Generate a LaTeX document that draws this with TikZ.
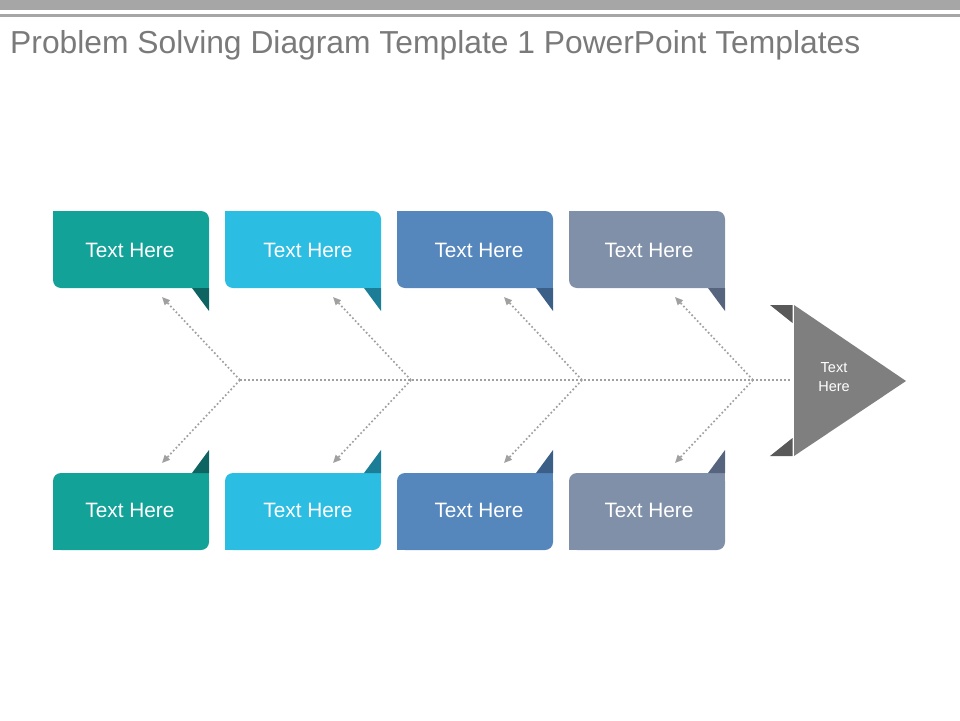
\documentclass[tikz,border=0pt]{standalone}
\usepackage{fontspec}
\setmainfont{Liberation Sans}
\usetikzlibrary{arrows.meta}
\definecolor{bargray}{HTML}{A6A6A6}
\definecolor{titlegray}{HTML}{7A7A7A}
\definecolor{dotgray}{HTML}{A0A0A0}
\definecolor{cA}{HTML}{13A298}
\definecolor{fA}{HTML}{0D6460}
\definecolor{cB}{HTML}{2CBDE2}
\definecolor{fB}{HTML}{1B7D96}
\definecolor{cC}{HTML}{5587BD}
\definecolor{fC}{HTML}{3C5F88}
\definecolor{cD}{HTML}{8090A9}
\definecolor{fD}{HTML}{56657D}
\definecolor{headgray}{HTML}{7F7F7F}
\definecolor{headdark}{HTML}{595959}
\begin{document}
\begin{tikzpicture}[x=1pt,y=-1pt,
  dotline/.style={draw=dotgray, line width=1.7pt, dash pattern=on 1.7pt off 2.3pt},
  tiparrow/.style={-{Triangle[length=8pt,width=7pt]}},
  boxtext/.style={text=white, inner sep=0pt, font=\fontsize{20.8}{24}\selectfont}]
\useasboundingbox (0,0) rectangle (960,720);
% header bars
\fill[bargray] (0,0) rectangle (960,10);
\fill[bargray] (0,14) rectangle (960,17);
\node[anchor=base west, inner sep=0pt, text=titlegray, font=\fontsize{31.8}{36}\selectfont] (title) at (10,53.5) {Problem Solving Diagram Template 1 PowerPoint Templates};
% boxes
\foreach \i/\c/\f/\M in {0/cA/fA/130,1/cB/fB/308,2/cC/fC/479,3/cD/fD/649}{
  \pgfmathsetmacro\L{53+172*\i}
  \pgfmathsetmacro\R{\L+156}
  % top box
  \fill[\c, rounded corners=8pt] (\L,211) rectangle (\R,288);
  \fill[\c] (\L,211) rectangle ++(20,20);
  \fill[\c] (\R,288) rectangle ++(-20,-20);
  \fill[\f] (\R-17,288) -- (\R,288) -- (\R,311) -- cycle;
  \node[boxtext] (top\i) at (\M,250.5) {Text Here};
  % bottom box
  \fill[\c, rounded corners=8pt] (\L,473) rectangle (\R,550);
  \fill[\c] (\L,550) rectangle ++(20,-20);
  \fill[\c] (\R,473) rectangle ++(-20,20);
  \fill[\f] (\R-17,473) -- (\R,473) -- (\R,450) -- cycle;
  \node[boxtext] (bot\i) at (\M,510.5) {Text Here};
  % connectors
  \pgfmathsetmacro\J{240+171*\i}
  \pgfmathsetmacro\T{162+171*\i}
  \coordinate (j\i) at (\J,380);
  \coordinate (u\i) at (\T,297);
  \coordinate (d\i) at (\T,463);
  \draw[dotline, tiparrow] (j\i) -- (u\i);
  \draw[dotline, tiparrow] (j\i) -- (d\i);
}
% head
\fill[headdark] (770,305) -- (792.5,305) -- (792.5,323) -- cycle;
\fill[headdark] (770,456) -- (792.5,456) -- (792.5,438) -- cycle;
\fill[headgray] (794,305) -- (906,381) -- (794,456) -- cycle;
\coordinate (spineend) at (791,380);
\draw[dotline] (j0) -- (spineend);
\node[text=white, inner sep=0pt, align=center, font=\fontsize{14.5}{18.5}\selectfont] (head) at (834,377) {Text\\Here};
\end{tikzpicture}
\end{document}
